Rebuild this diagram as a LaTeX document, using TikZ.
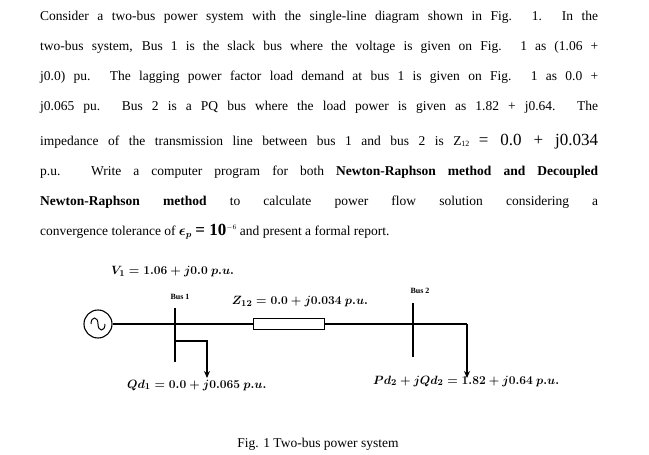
\documentclass[tikz,border=0pt]{standalone}
\usepackage{amsmath}
\usepackage{fontspec}
\setmainfont{Liberation Serif}
\usetikzlibrary{arrows.meta}
\newcommand{\bmth}[1]{\ensuremath{\boldsymbol{#1}}}
\begin{document}
\begin{tikzpicture}[x=1pt,y=-1pt,
  ln/.style={line width=1.1pt},
  para/.style={anchor=west,inner sep=0pt,font=\fontsize{13.5}{16}\selectfont},
  lab/.style={inner sep=0pt,font=\fontsize{13}{15}\selectfont},
  busl/.style={inner sep=0pt,font=\fontsize{8}{9}\selectfont\bfseries},
  arr/.style={ln,-{Stealth[length=7pt,width=6pt]}}]
\useasboundingbox (0,0) rectangle (649,455);
\node[para] (l1) at (40,17) {\makebox[558pt][s]{Consider a two-bus power system with the single-line diagram shown in Fig. 1. In the}};
\node[para] (l2) at (40,47) {\makebox[558pt][s]{two-bus system, Bus 1 is the slack bus where the voltage is given on Fig. 1 as (1.06 +}};
\node[para] (l3) at (40,77) {\makebox[558pt][s]{j0.0) pu. The lagging power factor load demand at bus 1 is given on Fig. 1 as 0.0 +}};
\node[para] (l4) at (40,107) {\makebox[558pt][s]{j0.065 pu. Bus 2 is a PQ bus where the load power is given as 1.82 + j0.64. The}};
\node[para] (l5) at (40,142) {\makebox[558pt][s]{impedance of the transmission line between bus 1 and bus 2 is Z\raisebox{-1pt}{\fontsize{8}{9}\selectfont 12} {\fontsize{17}{18}\selectfont = 0.0 + j0.034}}};
\node[para] (l6) at (40,172) {\makebox[558pt][s]{p.u. Write a computer program for both \textbf{Newton-Raphson method and Decoupled}}};
\node[para] (l7) at (40,202) {\makebox[558pt][s]{\textbf{Newton-Raphson method} to calculate power flow solution considering a}};
\node[para] (l8) at (40,232) {convergence tolerance of \bmth{\epsilon_p} {\fontsize{17}{18}\selectfont\textbf{= 10}}\raisebox{6pt}{\fontsize{7}{8}\selectfont $-6$} and present a formal report.};

% diagram
\node[draw,circle,ln,minimum size=28pt,inner sep=0pt] (g) at (98,324) {};
\draw[line width=1pt] (91,324) .. controls (91,316) and (98,316) .. (98,324) .. controls (98,332) and (105,332) .. (105,324);
\coordinate (b1t) at (175,308);
\coordinate (b1b) at (175,362);
\coordinate (b2t) at (413,303);
\coordinate (b2b) at (413,357);
\draw[ln] (b1t) -- (b1b);
\draw[ln] (b2t) -- (b2b);
\node[draw,ln,minimum width=71pt,minimum height=11pt,inner sep=0pt] (z) at (289,324) {};
\draw[ln] (g.east) -- (z.west);
\coordinate (c2) at (467,324);
\coordinate (t2) at (467,378);
\draw[ln] (z.east) -- (c2);
\draw[arr] (c2) -- (t2);
\coordinate (c1) at (175,341);
\coordinate (k1) at (207,341);
\coordinate (t1) at (207,378);
\draw[arr] (c1) -- (k1) -- (t1);

\node[lab,anchor=west] (v1) at (111,272) {\bmth{V_{1}=1.06+j0.0\ p.u.}};
\node[busl] (bus1) at (180,297) {Bus 1};
\node[busl] (bus2) at (420,291) {Bus 2};
\node[lab] (zl) at (300,302) {\bmth{Z_{12}=0.0+j0.034\ p.u.}};
\node[lab,anchor=west] (q1) at (127,385) {\bmth{Qd_{1}=0.0+j0.065\ p.u.}};
\node[lab,anchor=west] (p2) at (373,381) {\bmth{Pd_{2}+jQd_{2}=1.82+j0.64\ p.u.}};
\node[para,anchor=center] (cap) at (318,444) {Fig. 1 Two-bus power system};
\end{tikzpicture}
\end{document}
